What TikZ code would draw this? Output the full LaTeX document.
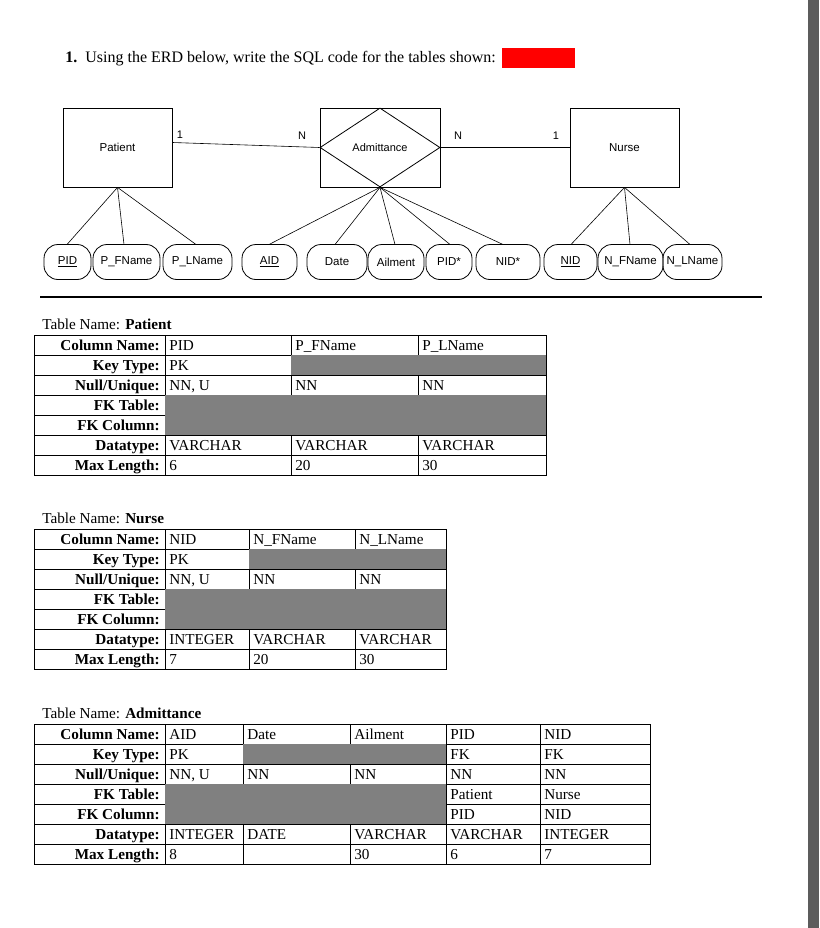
\documentclass[tikz,border=0pt]{standalone}
\usepackage{fontspec}
\setmainfont{Liberation Serif}
\newfontfamily\arial{Liberation Sans}
\usetikzlibrary{shapes.geometric}
\tikzset{
 ent/.style={draw,thick,minimum width=109pt,minimum height=79pt,font=\arial\fontsize{11.5}{13}\selectfont},
 attr/.style={draw,thick,rounded corners=14pt,minimum height=35pt,inner sep=1pt,font=\arial\fontsize{11.5}{13}\selectfont},
 card/.style={font=\arial\fontsize{11}{13}\selectfont},
 lnk/.style={line width=0.6pt},
 tc/.style={anchor=base west,font=\fontsize{15.2}{17}\selectfont,inner sep=0pt},
 tl/.style={anchor=base east,font=\bfseries\fontsize{15.2}{17}\selectfont,inner sep=0pt},
}
\definecolor{gcol}{HTML}{808080}
\definecolor{bar}{HTML}{5C5C5C}
\newcommand{\labs}[1]{% top y
 \node[tl] at (160,#1+15) {Column Name:};
 \node[tl] at (160,#1+35) {Key Type:};
 \node[tl] at (160,#1+55) {Null/Unique:};
 \node[tl] at (160,#1+75) {FK Table:};
 \node[tl] at (160,#1+95) {FK Column:};
 \node[tl] at (160,#1+115) {Datatype:};
 \node[tl] at (160,#1+135) {Max Length:};}
\newcommand{\grid}[3]{% top y, right x, list of inner vertical x
 \foreach \r in {0,20,...,140} \draw (34,#1+\r) -- (#2,#1+\r);
 \foreach \c in {34,165,#3,#2} \draw (\c,#1) -- (\c,#1+140);}
\newcommand{\tcell}[3]{\node[tc] at (#1+4,#2+15) {#3};}
\begin{document}
\begin{tikzpicture}[x=1pt,y=-1pt,line width=0.7pt]
\useasboundingbox (0,0) rectangle (819,928);
\fill[white] (0,0) rectangle (819,928);
\fill[bar] (808,0) rectangle (819,928);
% title
\node[anchor=base west,inner sep=0pt,font=\fontsize{16}{18}\selectfont] (title) at (65,63) {\textbf{1.}\enspace Using the ERD below, write the SQL code for the tables shown:};
\fill[red] (502,48) rectangle (575,68);
% ERD
\node[ent] (pat) at (117.5,147.5) {Patient};
\node[ent,minimum width=120pt] (adm) at (380,147.5) {};
\node[draw,thick,diamond,minimum width=120pt,minimum height=79pt,inner sep=0pt,aspect=1.5] (dia) at (380,147.5) {};
\node[card] at (380,147.5) {Admittance};
\node[ent] (nur) at (624.5,147.5) {Nurse};
\draw[lnk] (pat.east) ++(0,-5) -- (dia.west);
\draw[lnk] (dia.east) -- (nur.west);
\node[card] at (180,135) {1};
\node[card] at (302,136) {N};
\node[card] at (458,136) {N};
\node[card] at (556,136) {1};
\foreach \n/\t/\a/\b in {pid/\underline{PID}/44/91, pf/P\_FName/93/160, pl/P\_LName/163/232,
  aid/\underline{AID}/242/297, dat/Date/307/367, ail/Ailment/368/424, pids/PID*/426/472, nids/NID*/476/540,
  nid/\underline{NID}/544/597, nf/N\_FName/598/663, nl/N\_LName/663/722}
  \node[attr,minimum width={(\b-\a)*1pt}] (\n) at ({(\a+\b)/2},262) {\t};
\foreach \n/\x in {pid/67,pf/124,pl/196} \draw[lnk] (pat.south) -- (\x,244.5);
\foreach \n/\x in {aid/269,dat/335,ail/395,pids/450,nids/503} \draw[lnk] (dia.south) -- (\x,244.5);
\foreach \n/\x in {nid/571,nf/630,nl/690} \draw[lnk] (nur.south) -- (\x,244.5);
\draw[line width=1.8pt] (40,297) -- (762,297);
% ---------- Patient table
\node[anchor=base west,inner sep=0pt,font=\fontsize{15.2}{17}\selectfont] at (42,329) {Table Name: \textbf{Patient}};
\grid{335}{546}{291,418}
\fill[gcol] (291,355) rectangle (546,375);
\fill[gcol] (165,395) rectangle (546,435);
\draw (34,335) rectangle (546,475);
\labs{335}
\tcell{165}{335}{PID}\tcell{291}{335}{P\_FName}\tcell{418}{335}{P\_LName}
\tcell{165}{355}{PK}
\tcell{165}{375}{NN, U}\tcell{291}{375}{NN}\tcell{418}{375}{NN}
\tcell{165}{435}{VARCHAR}\tcell{291}{435}{VARCHAR}\tcell{418}{435}{VARCHAR}
\tcell{165}{455}{6}\tcell{291}{455}{20}\tcell{418}{455}{30}
% ---------- Nurse table
\node[anchor=base west,inner sep=0pt,font=\fontsize{15.2}{17}\selectfont] at (42,523) {Table Name: \textbf{Nurse}};
\grid{529}{446}{249,355}
\fill[gcol] (249,549) rectangle (446,569);
\fill[gcol] (165,589) rectangle (446,629);
\draw (34,529) rectangle (446,669);
\labs{529}
\tcell{165}{529}{NID}\tcell{249}{529}{N\_FName}\tcell{355}{529}{N\_LName}
\tcell{165}{549}{PK}
\tcell{165}{569}{NN, U}\tcell{249}{569}{NN}\tcell{355}{569}{NN}
\tcell{165}{629}{INTEGER}\tcell{249}{629}{VARCHAR}\tcell{355}{629}{VARCHAR}
\tcell{165}{649}{7}\tcell{249}{649}{20}\tcell{355}{649}{30}
% ---------- Admittance table
\node[anchor=base west,inner sep=0pt,font=\fontsize{15.2}{17}\selectfont] at (42,718) {Table Name: \textbf{Admittance}};
\grid{724}{650}{243,350,446,540}
\fill[gcol] (243,744) rectangle (446,764);
\fill[gcol] (165,784) rectangle (446,824);
\draw (34,724) rectangle (650,864);
\labs{724}
\tcell{165}{724}{AID}\tcell{243}{724}{Date}\tcell{350}{724}{Ailment}\tcell{446}{724}{PID}\tcell{540}{724}{NID}
\tcell{165}{744}{PK}\tcell{446}{744}{FK}\tcell{540}{744}{FK}
\tcell{165}{764}{NN, U}\tcell{243}{764}{NN}\tcell{350}{764}{NN}\tcell{446}{764}{NN}\tcell{540}{764}{NN}
\tcell{446}{784}{Patient}\tcell{540}{784}{Nurse}
\tcell{446}{804}{PID}\tcell{540}{804}{NID}
\tcell{165}{824}{INTEGER}\tcell{243}{824}{DATE}\tcell{350}{824}{VARCHAR}\tcell{446}{824}{VARCHAR}\tcell{540}{824}{INTEGER}
\tcell{165}{844}{8}\tcell{350}{844}{30}\tcell{446}{844}{6}\tcell{540}{844}{7}
\end{tikzpicture}
\end{document}
